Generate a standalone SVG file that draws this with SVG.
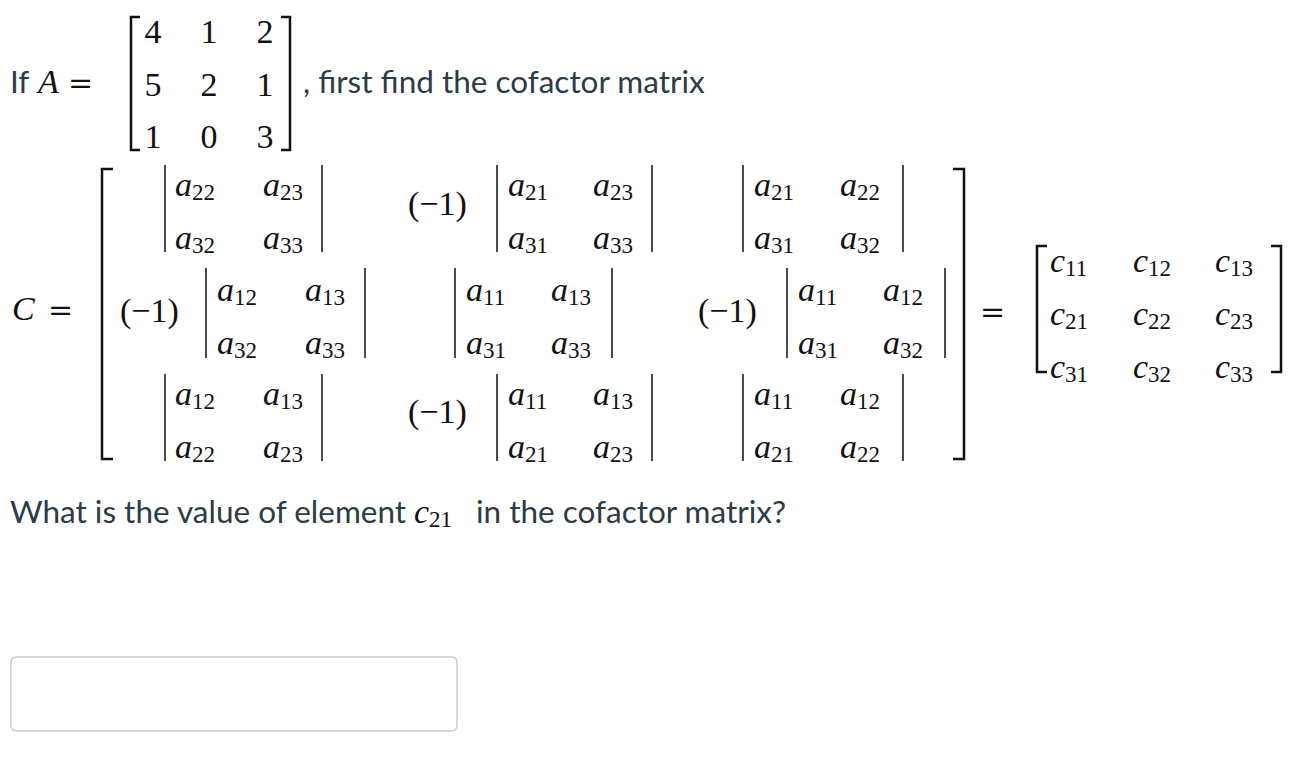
<svg xmlns="http://www.w3.org/2000/svg" width="1302" height="770" viewBox="0 0 1302 770">
<style>
.t{font-family:Lato,"Liberation Sans",sans-serif;font-size:31.5px;fill:#2d3b45}
.m{font-family:"Liberation Serif",serif;font-size:34px;fill:#111}
.e{font-family:"DejaVu Serif",serif;font-size:30px;fill:#111}
.i{font-style:italic}
.s{font-size:23px;font-style:normal}
.b{stroke:#111;stroke-width:1.5;fill:none}
.k{stroke:#111;stroke-width:2.5;fill:none}
</style>
<rect width="1302" height="770" fill="#fff"/>
<text class="t" x="10" y="93">If</text>
<text class="m i" x="38" y="93">A</text>
<text class="e" x="68" y="93">=</text>
<path class="k" d="M140,17 H131 V150 H140 M281,17 H290 V150 H281"/>
<g class="m" text-anchor="middle">
<text x="153" y="43">4</text><text x="209" y="43">1</text><text x="265" y="43">2</text>
<text x="153" y="96">5</text><text x="209" y="96">2</text><text x="265" y="96">1</text>
<text x="153" y="148">1</text><text x="209" y="148">0</text><text x="265" y="148">3</text>
</g>
<text class="t" x="303" y="93">, first find the cofactor matrix</text>
<text class="m i" x="12" y="320">C</text>
<text class="e" x="48" y="320">=</text>
<path class="k" d="M113,169 H102 V459 H113 M953,169 H964 V459 H953"/>
<g class="b">
<path d="M165,165V252M322,165V252M497,165V252M652,165V252M743,165V252M903,165V252"/>
<path d="M206,268V358M365,268V358M455,268V358M612,268V358M787,268V358M945,268V358"/>
<path d="M165,374V461M322,374V461M497,374V461M652,374V461M743,374V461M903,374V461"/>
</g>
<g class="m">
<text x="408" y="215">(−1)</text><text x="120" y="322">(−1)</text><text x="698" y="322">(−1)</text><text x="408" y="423">(−1)</text>
</g>
<g class="m i">
<text x="175" y="196">a<tspan class="s" dy="4">22</tspan></text><text x="263" y="196">a<tspan class="s" dy="4">23</tspan></text>
<text x="175" y="249">a<tspan class="s" dy="4">32</tspan></text><text x="263" y="249">a<tspan class="s" dy="4">33</tspan></text>
<text x="508" y="196">a<tspan class="s" dy="4">21</tspan></text><text x="593" y="196">a<tspan class="s" dy="4">23</tspan></text>
<text x="508" y="249">a<tspan class="s" dy="4">31</tspan></text><text x="593" y="249">a<tspan class="s" dy="4">33</tspan></text>
<text x="754" y="196">a<tspan class="s" dy="4">21</tspan></text><text x="840" y="196">a<tspan class="s" dy="4">22</tspan></text>
<text x="754" y="249">a<tspan class="s" dy="4">31</tspan></text><text x="840" y="249">a<tspan class="s" dy="4">32</tspan></text>
<text x="217" y="301">a<tspan class="s" dy="4">12</tspan></text><text x="305" y="301">a<tspan class="s" dy="4">13</tspan></text>
<text x="217" y="354">a<tspan class="s" dy="4">32</tspan></text><text x="305" y="354">a<tspan class="s" dy="4">33</tspan></text>
<text x="466" y="301">a<tspan class="s" dy="4">11</tspan></text><text x="551" y="301">a<tspan class="s" dy="4">13</tspan></text>
<text x="466" y="354">a<tspan class="s" dy="4">31</tspan></text><text x="551" y="354">a<tspan class="s" dy="4">33</tspan></text>
<text x="798" y="301">a<tspan class="s" dy="4">11</tspan></text><text x="883" y="301">a<tspan class="s" dy="4">12</tspan></text>
<text x="798" y="354">a<tspan class="s" dy="4">31</tspan></text><text x="883" y="354">a<tspan class="s" dy="4">32</tspan></text>
<text x="175" y="405">a<tspan class="s" dy="4">12</tspan></text><text x="263" y="405">a<tspan class="s" dy="4">13</tspan></text>
<text x="175" y="458">a<tspan class="s" dy="4">22</tspan></text><text x="263" y="458">a<tspan class="s" dy="4">23</tspan></text>
<text x="508" y="405">a<tspan class="s" dy="4">11</tspan></text><text x="593" y="405">a<tspan class="s" dy="4">13</tspan></text>
<text x="508" y="458">a<tspan class="s" dy="4">21</tspan></text><text x="593" y="458">a<tspan class="s" dy="4">23</tspan></text>
<text x="754" y="405">a<tspan class="s" dy="4">11</tspan></text><text x="840" y="405">a<tspan class="s" dy="4">12</tspan></text>
<text x="754" y="458">a<tspan class="s" dy="4">21</tspan></text><text x="840" y="458">a<tspan class="s" dy="4">22</tspan></text>
</g>
<text class="e" x="980" y="322">=</text>
<path class="k" d="M1047,246 H1037 V372 H1047 M1271,246 H1281 V372 H1271"/>
<g class="m i">
<text x="1050" y="272">c<tspan class="s" dy="4">11</tspan></text><text x="1133" y="272">c<tspan class="s" dy="4">12</tspan></text><text x="1215" y="272">c<tspan class="s" dy="4">13</tspan></text>
<text x="1050" y="325">c<tspan class="s" dy="4">21</tspan></text><text x="1133" y="325">c<tspan class="s" dy="4">22</tspan></text><text x="1215" y="325">c<tspan class="s" dy="4">23</tspan></text>
<text x="1050" y="378">c<tspan class="s" dy="4">31</tspan></text><text x="1133" y="378">c<tspan class="s" dy="4">32</tspan></text><text x="1215" y="378">c<tspan class="s" dy="4">33</tspan></text>
</g>
<text class="t" x="10" y="523">What is the value of element</text>
<text class="m i" x="414" y="523">c<tspan class="s" dy="4">21</tspan></text>
<text class="t" x="476" y="523">in the cofactor matrix?</text>
<rect x="11" y="657" width="446" height="74" rx="5" fill="#fff" stroke="#c7cdd1" stroke-width="1.5"/>
</svg>
